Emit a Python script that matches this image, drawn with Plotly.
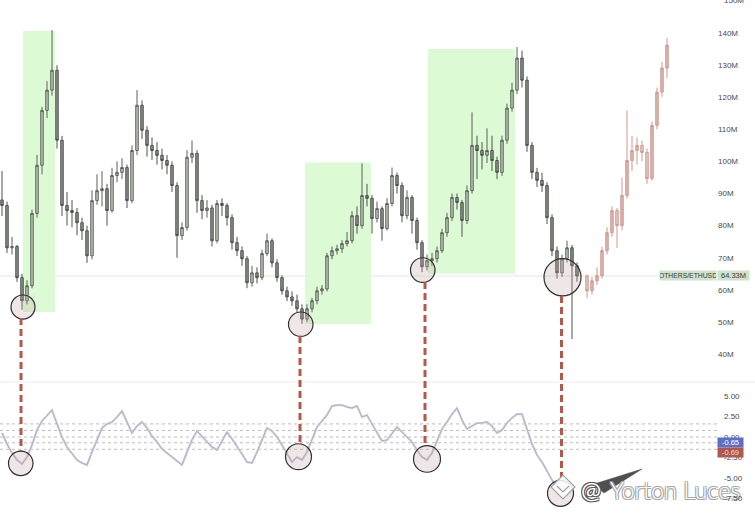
import plotly.graph_objects as go

# ---------------- data ----------------
# main OTHERS/ETHUSD candles (values in millions)
closes = [86.3, 73.1, 73.5, 63.8, 56.6, 61.3, 83.8, 98.8, 115.9, 122.2,
          128.4, 106.6, 86.3, 84.7, 84.1, 80.9, 78.4, 70.6, 87.8, 90.9,
          91.5, 84.7, 95.6, 96.6, 98.1, 87.8, 103.4, 117.5, 109.7, 105.0,
          103.4, 101.9, 100.3, 98.8, 92.5, 76.9, 79.4, 101.3, 102.5, 87.8,
          84.7, 85.5, 75.3, 86.9, 86.3, 82.5, 74.7, 72.2, 69.7, 62.2,
          65.3, 63.8, 71.3, 75.3, 68.4, 63.8, 59.7, 57.8, 56.6, 54.1,
          50.9, 54.1, 56.6, 59.7, 60.3, 70.6, 72.2, 72.8, 74.4, 75.3,
          83.1, 80.0, 89.4, 88.5, 82.2, 85.3, 79.1, 86.9, 95.6, 92.5,
          83.1, 88.8, 81.6, 74.7, 67.2, 69.1, 69.7, 72.2, 77.8, 82.5,
          88.8, 87.2, 81.6, 90.9, 105.0, 103.4, 101.9, 103.4, 100.3, 96.6,
          106.6, 116.6, 122.2, 132.2, 125.3, 105.0, 96.6, 94.1, 92.5, 82.5,
          72.2, 65.3, 69.7, 73.1, 67.5, 64.33]
highs = [97.0, 87.5, 76.5, 74.0, 65.0, 63.0, 85.0, 102.0, 117.0, 125.0,
         140.9, 130.0, 108.0, 90.5, 88.0, 85.5, 82.5, 80.0, 91.0, 96.0,
         97.0, 93.0, 98.0, 100.0, 101.0, 99.0, 105.0, 122.2, 119.0, 111.0,
         107.5, 106.0, 104.0, 102.0, 100.0, 93.5, 81.0, 103.5, 106.5, 103.5,
         89.5, 88.0, 86.5, 88.0, 88.5, 87.0, 83.5, 76.5, 73.5, 70.5,
         67.5, 67.0, 72.5, 77.5, 76.0, 69.5, 64.5, 61.0, 59.5, 58.5,
         55.5, 55.5, 57.5, 61.0, 61.5, 71.5, 73.5, 74.0, 75.5, 78.0,
         84.5, 86.0, 99.4, 93.0, 89.5, 87.5, 86.0, 88.5, 98.1, 96.5,
         93.5, 91.0, 89.5, 82.5, 75.5, 71.0, 71.5, 73.5, 79.0, 84.0,
         90.0, 90.0, 88.0, 92.5, 115.3, 108.0, 106.0, 110.3, 108.0, 101.5,
         108.0, 118.0, 124.5, 135.6, 134.5, 126.5, 106.0, 98.0, 96.5, 93.5,
         83.5, 73.5, 71.0, 75.3, 74.0, 68.5]
lows = [83.0, 71.5, 71.0, 62.5, 53.8, 55.5, 60.5, 82.5, 96.0, 113.5,
        120.5, 104.0, 83.0, 80.0, 79.5, 77.0, 75.5, 68.4, 69.5, 86.5,
        86.0, 80.0, 84.0, 93.5, 94.5, 85.5, 87.0, 102.0, 107.0, 101.5,
        100.5, 99.0, 97.5, 96.0, 90.5, 70.0, 75.5, 78.5, 99.5, 84.0,
        82.0, 82.5, 73.5, 74.5, 83.0, 80.0, 72.5, 70.5, 67.5, 60.5,
        61.0, 62.0, 63.0, 70.5, 67.0, 62.5, 58.5, 56.5, 55.0, 53.0,
        49.4, 50.0, 53.0, 55.5, 58.5, 59.5, 69.5, 71.0, 71.5, 73.5,
        74.5, 77.5, 79.0, 86.0, 77.5, 81.0, 75.3, 78.5, 86.0, 90.0,
        81.0, 82.0, 77.5, 72.5, 65.5, 66.0, 67.5, 68.5, 71.5, 76.5,
        81.5, 85.0, 76.5, 80.5, 90.0, 94.5, 97.5, 99.5, 97.0, 94.5,
        95.5, 105.5, 115.5, 121.0, 123.0, 103.0, 94.5, 92.0, 90.5, 80.5,
        70.5, 63.5, 64.0, 68.5, 44.7, 62.5]
first_open = 88.0

# projected (pink) candles
proj_closes = [59.7, 62.8, 64.4, 72.2, 77.8, 84.7, 80.0, 89.4, 100.3, 103.4,
               105.0, 102.8, 94.7, 111.2, 121.6, 129.1, 136.2]
proj_highs = [64.8, 64.0, 67.0, 73.5, 79.5, 86.0, 85.5, 95.0, 115.9, 108.0,
              107.5, 106.5, 104.0, 112.5, 123.0, 131.0, 138.5]
proj_lows = [57.5, 58.5, 61.5, 63.5, 71.0, 76.5, 73.1, 78.5, 88.5, 97.0,
             99.0, 100.0, 93.0, 94.0, 110.0, 120.0, 126.0]
proj_start = 117

# oscillator
osc = [0.49, -0.85, -1.95, -2.80, -3.29, -2.44, -0.98, 0.85, 1.95, 2.68,
       3.29, 1.59, 0.00, -1.22, -1.95, -2.80, -3.17, -3.41, -1.83, -0.24,
       1.10, 1.59, 1.83, 2.44, 3.17, 1.83, 0.49, 1.34, 1.83, 1.10,
       0.12, -0.61, -1.46, -1.95, -2.44, -2.93, -3.41, -1.83, -0.37, 0.73,
       0.12, -0.61, -1.22, -1.59, -0.49, 0.61, -0.24, -1.10, -2.07, -3.05,
       -3.17, -1.83, -0.37, 1.10, 0.73, 0.00, -0.98, -1.95, -3.05, -2.44,
       -2.80, -1.83, -0.37, 1.22, 1.95, 2.68, 3.78, 3.90, 3.90, 3.66,
       3.54, 3.78, 2.44, 2.68, 1.59, 0.49, -0.49, -0.37, 0.49, 1.22,
       0.61, 0.00, -0.61, -1.59, -2.44, -2.80, -1.95, -0.49, 0.98, 1.83,
       2.80, 3.54, 2.07, 0.98, 1.34, 1.71, 1.71, 1.83, 1.34, 0.49,
       0.85, 1.71, 2.32, 2.80, 2.80, 0.85, -0.85, -2.20, -3.05, -4.15,
       -5.24, -6.10, -6.59]
osc_levels = [1.6, 0.8, 0.0, -0.7, -1.5]

price_ticks = [40, 50, 60, 70, 80, 90, 100, 110, 120, 130, 140, 150]
price_tick_text = [f"{v}M" for v in price_ticks]
osc_ticks = [5.0, 2.5, 0.0, -2.5, -5.0, -7.5]
osc_tick_text = ["5.00", "2.50", "0.00", "-2.50", "-5.00", "-7.50"]

last_price = 64.33
osc_last_a, osc_last_b = -0.65, -0.69

# highlighted zones: (x0, x1, y0, y1) in bar index / price
zones = [(4.2, 10.6, 53.1, 140.6), (60.6, 73.8, 49.4, 99.7), (85.2, 102.6, 65.0, 135.0)]
price_circles = [(1.8, 6.6, 50.9, 58.4), (57.3, 62.2, 45.5, 53.1),
                 (81.7, 86.6, 62.3, 70.0), (108.4, 115.8, 58.1, 69.7)]
osc_circles = [(1.3, 6.2, -4.71, -1.71), (56.7, 61.9, -3.99, -0.82),
               (82.3, 87.7, -4.30, -1.06), (109.1, 114.3, -8.45, -5.28)]
# vertical dashed links: x (bar), top & bottom in figure pixels
links = [(3.8, 318, 451), (59.6, 336, 444), (84.6, 282, 446), (111.9, 296, 478)]

# ---------------- figure ----------------
W, H = 755, 513
MR = 38
PW = W - MR
TICKFONT = dict(family="Liberation Sans", size=8, color="#4a4a4a")

def px(x):
    return x / PW

def py(y):
    return 1 - y / H

opens = [first_open] + closes[:-1]
xs = list(range(len(closes)))
proj_opens = [closes[-1]] + proj_closes[:-1]
pxs = list(range(proj_start, proj_start + len(proj_closes)))

fig = go.Figure()
fig.add_trace(go.Candlestick(
    x=xs, open=opens, high=highs, low=lows, close=closes,
    increasing=dict(line=dict(color="#5a605a", width=1), fillcolor="#bccab8"),
    decreasing=dict(line=dict(color="#4e524e", width=1), fillcolor="#8a908a"),
    whiskerwidth=0, showlegend=False, hoverinfo="skip"))
fig.add_trace(go.Candlestick(
    x=pxs, open=proj_opens, high=proj_highs, low=proj_lows, close=proj_closes,
    increasing=dict(line=dict(color="#cc9a91", width=1), fillcolor="#ddb4ad"),
    decreasing=dict(line=dict(color="#cc9a91", width=1), fillcolor="#e8c8c2"),
    whiskerwidth=0, showlegend=False, hoverinfo="skip"))

ox = list(range(len(osc)))
fig.add_trace(go.Scatter(x=ox, y=osc, yaxis="y2", mode="lines",
                         line=dict(color="#dacbcd", width=2.2), showlegend=False, hoverinfo="skip"))
fig.add_trace(go.Scatter(x=ox, y=osc, yaxis="y2", mode="lines",
                         line=dict(color="#aab4dc", width=1.0), showlegend=False, hoverinfo="skip"))

shapes = []
for x0, x1, y0, y1 in zones:
    shapes.append(dict(type="rect", xref="x", yref="y", x0=x0, x1=x1, y0=y0, y1=y1,
                       fillcolor="#dcfbd5", line=dict(width=0), layer="below"))
# last price line
shapes.append(dict(type="line", xref="paper", yref="y", x0=0, x1=1, y0=last_price, y1=last_price,
                   line=dict(color="#e2e9e0", width=1), layer="below"))
# pane separator
shapes.append(dict(type="line", xref="paper", yref="paper", x0=0, x1=W / PW, y0=py(382), y1=py(382),
                   line=dict(color="#ececec", width=1)))
for lv in osc_levels:
    shapes.append(dict(type="line", xref="paper", yref="y2", x0=0, x1=1, y0=lv, y1=lv,
                       line=dict(color="#bdbdbd", width=1, dash="dot"), layer="below"))
for x0, x1, y0, y1 in price_circles:
    shapes.append(dict(type="circle", xref="x", yref="y", x0=x0, x1=x1, y0=y0, y1=y1,
                       fillcolor="rgba(190,160,160,0.25)", line=dict(color="#2f2f2f", width=1.2)))
for x0, x1, y0, y1 in osc_circles:
    shapes.append(dict(type="circle", xref="x", yref="y2", x0=x0, x1=x1, y0=y0, y1=y1,
                       fillcolor="rgba(190,160,160,0.25)", line=dict(color="#2f2f2f", width=1.2)))
for x, t, b in links:
    shapes.append(dict(type="line", xref="x", yref="paper", x0=x, x1=x, y0=py(t), y1=py(b),
                       line=dict(color="#b4584b", width=3, dash="7px,4px")))
# watermark logo (diamond) and dark wedge
shapes.append(dict(type="path", xref="paper", yref="paper",
                   path=f"M {px(551)},{py(487)} L {px(563)},{py(475)} L {px(575)},{py(487)} L {px(563)},{py(499)} Z",
                   fillcolor="rgba(255,255,255,0.85)", line=dict(color="#a0a0a0", width=1.2)))
shapes.append(dict(type="path", xref="paper", yref="paper",
                   path=f"M {px(557)},{py(486)} L {px(563)},{py(492)} L {px(569)},{py(486)}",
                   line=dict(color="#a0a0a0", width=1.2)))
shapes.append(dict(type="path", xref="paper", yref="paper",
                   path=f"M {px(594)},{py(484)} L {px(642)},{py(469)} L {px(604)},{py(493)} Z",
                   fillcolor="#4f4f4f", line=dict(color="#4f4f4f", width=0.5)))

outline = "1px 1px 0 #a5a5a5, -1px -1px 0 #a5a5a5, 1px -1px 0 #a5a5a5, -1px 1px 0 #a5a5a5"
annotations = [
    dict(xref="paper", yref="y", x=1, y=150, xanchor="left", yanchor="middle", xshift=5,
         text="150M", showarrow=False, font=TICKFONT),
    dict(xref="paper", yref="y", x=1, y=last_price, xanchor="right", yanchor="middle",
         text="OTHERS/ETHUSD", showarrow=False, bgcolor="#cfe2cb", width=56, height=9, borderpad=0,
         font=dict(family="Liberation Sans", size=6.8, color="#3a3a3a")),
    dict(xref="paper", yref="y", x=1, y=last_price, xanchor="left", yanchor="middle",
         text=f"{last_price:.2f}M", showarrow=False, bgcolor="#cfe2cb", width=31, height=9, borderpad=0,
         font=dict(family="Liberation Sans", size=7.5, color="#3a3a3a")),
    # watermark
    dict(xref="paper", yref="paper", x=px(591), y=py(489), xanchor="center", yanchor="middle",
         text="@", showarrow=False,
         font=dict(family="Lato", size=24, color="#ffffff",
                   shadow="1px 1px 0 #555, -1px -1px 0 #555, 1px -1px 0 #555, -1px 1px 0 #555")),
    dict(xref="paper", yref="paper", x=px(608), y=py(490), xanchor="left", yanchor="middle",
         text="Yorton Luces", showarrow=False,
         font=dict(family="Lato", size=23.5, color="#ffffff", weight=300, shadow=outline)),
]
# oscillator scale labels drawn above the watermark
for v, t in zip(osc_ticks, osc_tick_text):
    annotations.append(dict(xref="paper", yref="y2", x=1, y=v, xanchor="left", yanchor="middle",
                            xshift=5, text=t, showarrow=False, font=TICKFONT))
# last-value boxes of the oscillator
annotations += [
    dict(xref="paper", yref="y2", x=1, y=osc_last_a, xanchor="left", yanchor="middle",
         text=f"{osc_last_a:.2f}", showarrow=False, bgcolor="#5a6fca", width=25, height=9, borderpad=0,
         font=dict(family="Liberation Sans", size=7.5, color="#ffffff")),
    dict(xref="paper", yref="y2", x=1, y=osc_last_b, yshift=-10, xanchor="left", yanchor="middle",
         text=f"{osc_last_b:.2f}", showarrow=False, bgcolor="#ab5a4d", width=25, height=9, borderpad=0,
         font=dict(family="Liberation Sans", size=7.5, color="#f3dcd8")),
]

fig.update_layout(
    width=W, height=H,
    margin=dict(l=0, r=MR, t=0, b=0),
    paper_bgcolor="#ffffff", plot_bgcolor="#ffffff",
    showlegend=False,
    xaxis=dict(range=[-0.4, PW / 5 - 0.4], visible=False, rangeslider=dict(visible=False),
               fixedrange=True),
    yaxis=dict(domain=[py(382), 1], range=[31.3, 150.28], side="right", anchor="x",
               tickvals=price_ticks[:-1], ticktext=price_tick_text[:-1], showgrid=False, zeroline=False,
               showline=False, ticks="", tickfont=TICKFONT),
    yaxis2=dict(domain=[0, py(383)], range=[-9.27, 6.59], side="right", anchor="x",
                showticklabels=False, showgrid=False, zeroline=False, showline=False, ticks=""),
    shapes=shapes,
    annotations=annotations,
)

fig.write_html("out.html", config={"displayModeBar": False},
               post_script="document.body.style.margin='0';document.body.style.overflow='hidden';")
